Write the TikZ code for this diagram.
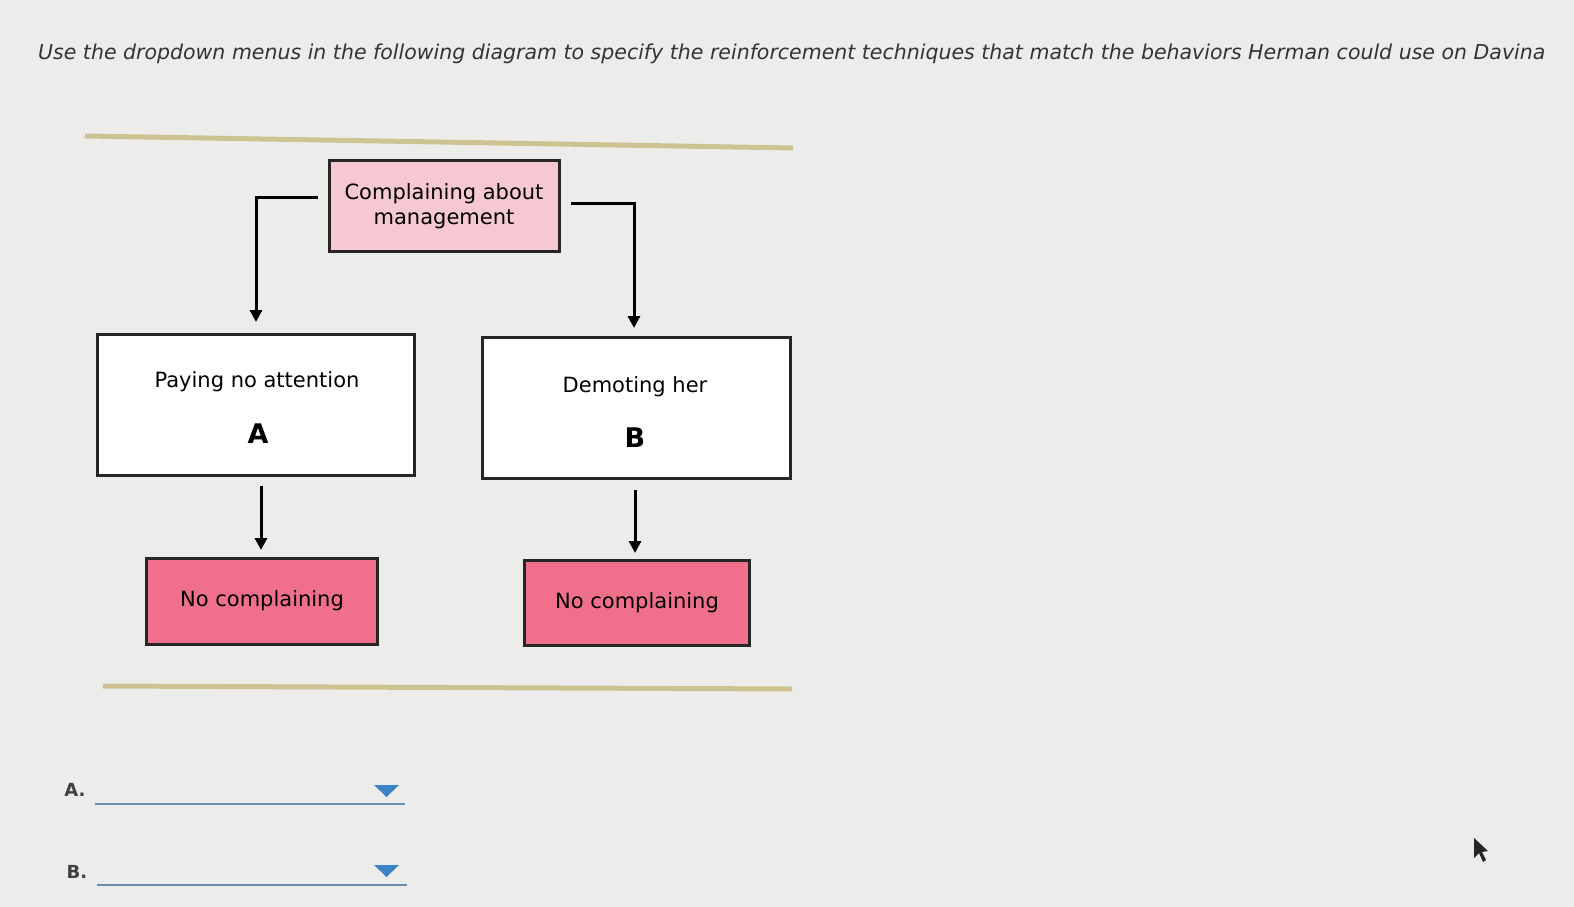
\documentclass[tikz,border=0pt]{standalone}
\usepackage{fontspec}
\setmainfont{DejaVu Sans}
\usetikzlibrary{arrows.meta}
\definecolor{bg}{RGB}{236,236,234}
\definecolor{tan}{RGB}{205,195,145}
\definecolor{lpink}{RGB}{246,200,210}
\definecolor{rpink}{RGB}{240,112,140}
\definecolor{uline}{RGB}{110,140,175}
\definecolor{tri}{RGB}{60,130,200}
\begin{document}
\begin{tikzpicture}[x=1pt,y=-1pt,
  box/.style={draw=black!85,line width=3pt,minimum height=#1,align=center,font=\fontsize{21}{25}\selectfont,inner sep=0pt},
  conn/.style={line width=3pt,-{Triangle[length=12pt,width=12pt]}},
  sep/.style={tan,line width=5pt}]
\useasboundingbox (0,0) rectangle (1574,907);
\fill[bg] (0,0) rectangle (1574,907);
\clip (0,0) rectangle (1574,907);
\node[anchor=west,font=\itshape\fontsize{20.5}{24}\selectfont,text=black!80,inner sep=0pt] (title) at (38,54) {Use the dropdown menus in the following diagram to specify the reinforcement techniques that match the behaviors Herman could use on Davina};
\draw[sep] (85,136) -- (793,148);
\draw[sep] (103,686) -- (792,689);
\node[box=91pt,minimum width=230pt,fill=lpink] (top) at (444,206) {Complaining about\\management};
\node[box=141pt,minimum width=317pt,fill=white] (a) at (256,405) {};
\node[font=\fontsize{21}{25}\selectfont] (at) at (257,382) {Paying no attention};
\node[font=\bfseries\fontsize{27}{30}\selectfont] (al) at (258,434) {A};
\node[box=141pt,minimum width=308pt,fill=white] (b) at (636,408) {};
\node[font=\fontsize{21}{25}\selectfont] (bt) at (635,387) {Demoting her};
\node[font=\bfseries\fontsize{27}{30}\selectfont] (bl) at (635,438) {B};
\node[box=86pt,minimum width=231pt,fill=rpink] (ra) at (262,601) {No complaining};
\node[box=85pt,minimum width=225pt,fill=rpink] (rb) at (637,603) {No complaining};
\coordinate (l0) at (318,197);
\coordinate (r0) at (571,203);
\draw[conn] (l0) -- (256,197) -- (256,322);
\draw[conn] (r0) -- (634,203) -- (634,328);
\coordinate (a1) at (261,486); \coordinate (a2) at (261,550);
\coordinate (b1) at (635,490); \coordinate (b2) at (635,553);
\draw[conn] (a1) -- (a2);
\draw[conn] (b1) -- (b2);
\node[font=\bfseries\fontsize{18}{20}\selectfont,text=black!75] (la) at (75,790) {A.};
\node[font=\bfseries\fontsize{18}{20}\selectfont,text=black!75] (lb) at (77,872) {B.};
\draw[uline,line width=2pt] (95,804) -- (405,804);
\draw[uline,line width=2pt] (97,885) -- (407,885);
\fill[tri] (374,785) -- (399,785) -- (386.5,797) -- cycle;
\fill[tri] (374,865) -- (399,865) -- (386.5,877) -- cycle;
\fill[black!85] (1474,838) -- (1474,858) -- (1479,853) -- (1483,862) -- (1486,860) -- (1482,852) -- (1488,851) -- cycle;
\end{tikzpicture}
\end{document}
